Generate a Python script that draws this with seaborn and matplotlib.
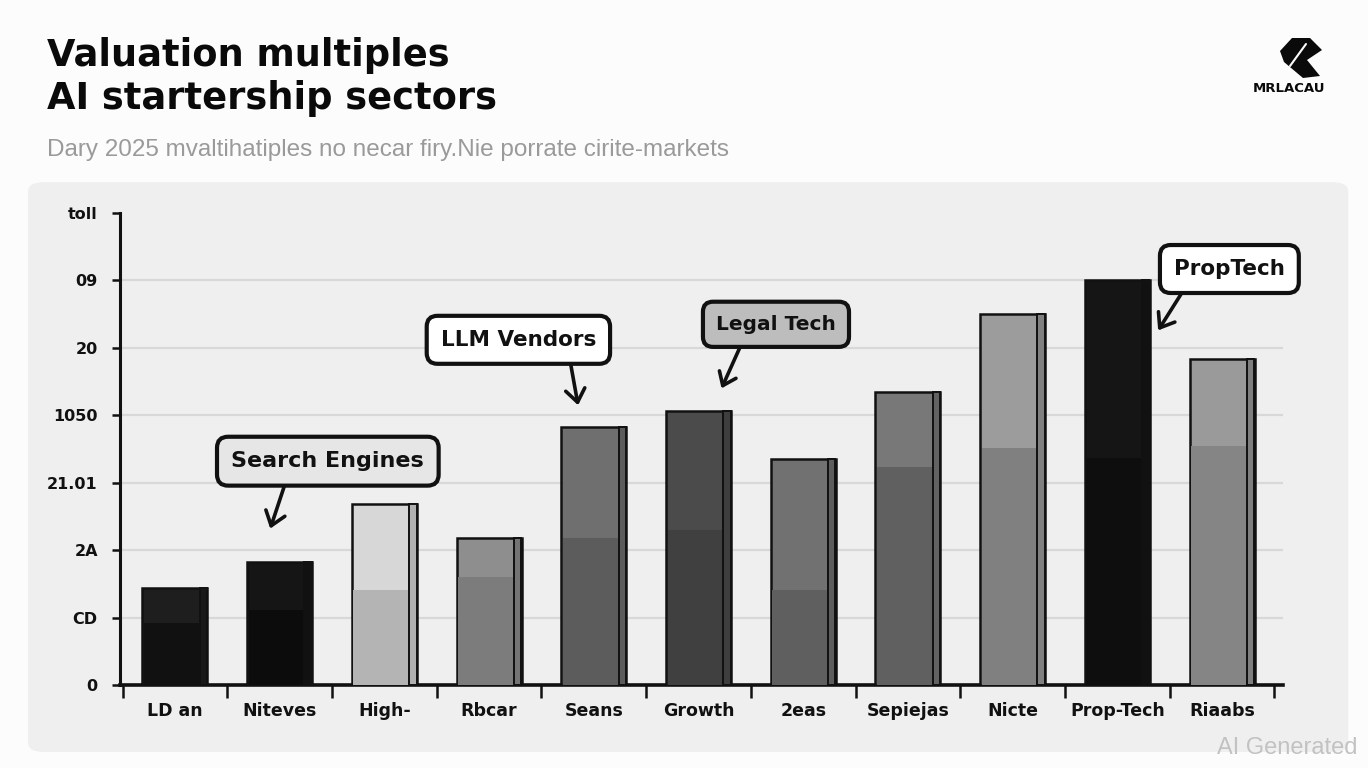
import numpy as np
import pandas as pd
import seaborn as sns
import matplotlib.pyplot as plt
from matplotlib.patches import FancyBboxPatch, Polygon

# Sector categories (labels as printed on the chart)
SECTORS = ["LD an", "Niteves", "High-", "Rbcar", "Seans", "Growth",
           "2eas", "Sepiejas", "Nicte", "Prop-Tech", "Riaabs"]
# Stacked values: total bar height and lower segment
TOTAL = [1.44, 1.82, 2.68, 2.18, 3.82, 4.07, 3.35, 4.34, 5.50, 6.00, 4.84]
BASE = [0.92, 1.11, 1.41, 1.60, 2.18, 2.30, 1.41, 3.24, 3.51, 3.36, 3.54]

YTICKS = [0, 1, 2, 3, 4, 5, 6, 7]
YTICK_LABELS = ["0", "CD", "2A", "21.01", "1050", "20", "09", "toll"]

TOP_COLORS = ["#1e1e1e", "#151515", "#d7d7d7", "#8e8e8e", "#6f6f6f", "#4b4b4b",
              "#717171", "#787878", "#9c9c9c", "#151515", "#9a9a9a"]
BASE_COLORS = ["#111111", "#0c0c0c", "#b4b4b4", "#7c7c7c", "#5c5c5c", "#404040",
               "#5f5f5f", "#606060", "#808080", "#0e0e0e", "#858585"]

# Callouts: text, target sector, fill
CALLOUTS = [
    ("Search Engines", "Niteves", "#e6e6e6"),
    ("LLM Vendors", "Seans", "#ffffff"),
    ("Legal Tech", "Growth", "#bdbdbd"),
    ("PropTech", "Prop-Tech", "#ffffff"),
]
# layout: (text dx, text y, tip dx, tip dy above bar, arrow start along box, fontsize)
CALLOUT_LAYOUT = [
    (0.46, 3.32, -0.09, 0.50, 0.30, 16),
    (-0.72, 5.12, -0.15, 0.33, 0.82, 15.5),
    (0.74, 5.35, 0.22, 0.33, 0.25, 14.5),
    (1.07, 6.17, 0.39, -0.74, 0.15, 15.5),
]

df = pd.DataFrame({"sector": SECTORS, "total": TOTAL, "base": BASE})

sns.set_theme(style="white")
plt.rcParams["font.family"] = ["DejaVu Sans"]

fig = plt.figure(figsize=(13.68, 7.68), dpi=100)
fig.patch.set_facecolor("#fcfcfc")

panel = FancyBboxPatch((0.0205, 0.0208), 0.965, 0.742,
                       boxstyle="round,pad=0,rounding_size=0.012",
                       transform=fig.transFigure, facecolor="#efefef",
                       edgecolor="none", zorder=-5)
fig.patches.append(panel)

ax = fig.add_axes([0.0877, 0.108, 0.850, 0.6146])
ax.set_zorder(2)
ax.set_facecolor("none")

sns.barplot(data=df, x="sector", y="total", hue="sector", palette=TOP_COLORS,
            legend=False, width=0.62, saturation=1, edgecolor="#111111",
            linewidth=1.8, ax=ax, zorder=3)
sns.barplot(data=df, x="sector", y="base", hue="sector", palette=BASE_COLORS,
            legend=False, width=0.59, saturation=1, linewidth=0, ax=ax, zorder=4)

# right-hand "3D" strip on each bar
pos = np.arange(len(SECTORS))
strip = [tuple(c * 0.82 for c in plt.matplotlib.colors.to_rgb(t)) for t in TOP_COLORS]
ax.bar(pos + 0.272, TOTAL, width=0.07, color=strip, edgecolor="#111111",
       linewidth=1.4, zorder=5)

ax.set_xlim(-0.525, 10.58)
ax.set_ylim(0, 7)
ax.set_xlabel("")
ax.set_ylabel("")

ax.set_yticks(YTICKS)
ax.set_yticklabels(YTICK_LABELS, fontsize=11.5, fontweight="bold", color="#111111")
ax.tick_params(axis="y", length=6, width=1.8, color="#111111", pad=10, left=True)
ax.yaxis.grid(True, color="#d8d8d8", linewidth=1.6, zorder=0)
ax.set_axisbelow(True)
ax.get_ygridlines()[-1].set_visible(False)

ax.set_xticks(pos)
ax.set_xticklabels(SECTORS, fontsize=12.5, fontweight="bold", color="#111111")
ax.set_xticks(np.arange(-0.5, len(SECTORS)), minor=True)
ax.tick_params(axis="x", which="major", length=0, pad=12)
ax.tick_params(axis="x", which="minor", length=9, width=1.8, color="#111111",
               direction="out", bottom=True)

for side in ["top", "right"]:
    ax.spines[side].set_visible(False)
ax.spines["left"].set_color("#111111")
ax.spines["left"].set_linewidth(2.2)
ax.spines["bottom"].set_color("#111111")
ax.spines["bottom"].set_linewidth(2.6)

# callouts
for (label, target, fill), (tdx, ty, adx, ady, rel, fs) in zip(CALLOUTS, CALLOUT_LAYOUT):
    i = SECTORS.index(target)
    ax.annotate(label, xy=(i + adx, TOTAL[i] + ady), xytext=(i + tdx, ty),
                ha="center", va="center", fontsize=fs, fontweight="bold",
                color="#111111", zorder=10,
                bbox=dict(boxstyle="round,pad=0.65,rounding_size=0.5",
                          fc=fill, ec="#111111", lw=3),
                arrowprops=dict(arrowstyle="->,head_length=0.6,head_width=0.45",
                                color="#111111", lw=2.6, shrinkA=0, shrinkB=0,
                                relpos=(rel, 0.0)))

# titles
fig.text(0.034, 0.952, "Valuation multiples\nAI startership sectors",
         fontsize=26.5, fontweight="bold", color="#0a0a0a", va="top", ha="left",
         linespacing=1.22)
fig.text(0.034, 0.805,
         "Dary 2025 mvaltihatiples no necar firy.Nie porrate cirite-markets",
         fontsize=17.5, color="#9a9a9a", va="center", ha="left",
         family=["Liberation Sans", "DejaVu Sans"])

# logo
W, H = 1368.0, 768.0
def fp(px, py):
    return (px / W, 1 - py / H)
logo = Polygon([fp(1292, 38), fp(1310, 38), fp(1322, 50), fp(1307, 60),
                fp(1320, 76), fp(1303, 78), fp(1284, 62), fp(1280, 51)],
               closed=True, transform=fig.transFigure, facecolor="#0a0a0a",
               edgecolor="none")
fig.patches.append(logo)
fig.lines.append(plt.Line2D([1290 / W, 1306 / W], [1 - 66 / H, 1 - 44 / H],
                            transform=fig.transFigure, color="#fcfcfc", lw=1.5))
fig.text(1289 / W, 1 - 89 / H, "MRLACAU", fontsize=9.5, fontweight="bold",
         color="#0a0a0a", ha="center", va="center")

fig.text(0.992, 0.026, "AI Generated", fontsize=17, color="#c2c2c2",
         ha="right", va="center", family=["Liberation Sans", "DejaVu Sans"])

fig.savefig("out.png", dpi=100, facecolor=fig.get_facecolor())
